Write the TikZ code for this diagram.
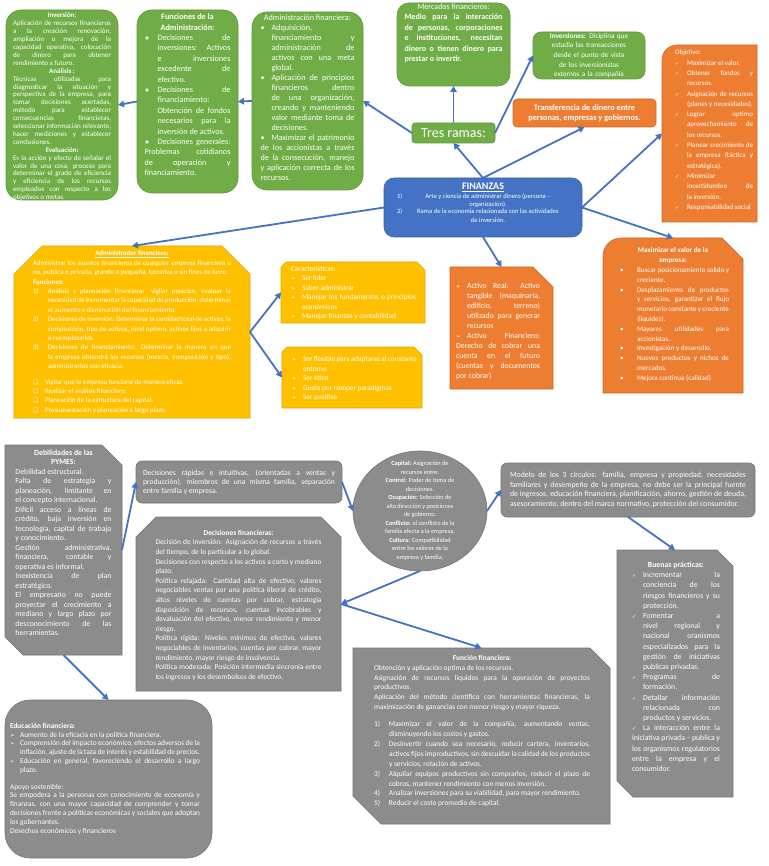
\documentclass[tikz,border=0pt]{standalone}
\usepackage{fontspec}
\setmainfont{Carlito}
\newfontfamily\symfont{DejaVu Sans}
\usetikzlibrary{positioning,calc,arrows.meta,shapes.geometric}
\definecolor{leafgreen}{HTML}{70AD47}
\definecolor{leafedge}{HTML}{5E9A3A}
\definecolor{tangerine}{HTML}{ED7D31}
\definecolor{tangedge}{HTML}{D0692A}
\definecolor{royal}{HTML}{4472C4}
\definecolor{royaledge}{HTML}{3A62AA}
\definecolor{gold}{HTML}{FFC000}
\definecolor{goldedge}{HTML}{E0A800}
\definecolor{slate}{HTML}{8C8C8C}
\definecolor{slateedge}{HTML}{767676}
\definecolor{linkblue}{HTML}{4472C4}
\newcommand{\hitem}[3]{\par\noindent\hangindent=#1\hangafter=1\makebox[#1][l]{#2}#3}
\newcommand{\ttl}[1]{{\centering\textbf{#1}\par}}
\newcommand{\fitem}[2]{\par\noindent\makebox[20pt][l]{#1}\parbox[t]{142pt}{\centering #2}}
\newcommand{\dia}{{\symfont\fontsize{5.5}{6}\selectfont\char"2756}}
\newcommand{\chk}{{\symfont\fontsize{5}{6}\selectfont\char"2713}}
\newcommand{\arr}{{\symfont\fontsize{5.5}{6}\selectfont\char"27A2}}
\newcommand{\sqb}{{\symfont\fontsize{6}{6}\selectfont\char"2751}}
\tolerance=9999 \emergencystretch=3em \hbadness=10000 \hfuzz=3pt
\hyphenpenalty=10000 \exhyphenpenalty=10000 \parindent=0pt

\begin{document}
\begin{tikzpicture}[
        x=1pt,
        y=-1pt,
        frame/.style={inner sep=0pt, outer sep=0pt},
        greenbox/.style={frame, fill=leafgreen, draw=leafedge, line width=0.6pt, text=white},
        orangebox/.style={frame, fill=tangerine, draw=tangedge, line width=0.6pt, text=white},
        bluebox/.style={frame, fill=royal, draw=royaledge, line width=0.6pt, text=white},
        graybox/.style={frame, fill=slate, draw=slateedge, line width=0.6pt, text=white},
        orangefill/.style={fill=tangerine, draw=tangedge, line width=0.6pt},
        goldfill/.style={fill=gold, draw=goldedge, line width=0.6pt},
        grayfill/.style={fill=slate, draw=slateedge, line width=0.6pt},
        txt/.style={text=white, align=justify, inner sep=0pt, outer sep=0pt},
        link/.style={draw=linkblue, line width=1.8pt, -{Triangle[length=6pt,width=6.5pt]}}
    ]
        \fill[white] (0,0) rectangle (768,866);
        \useasboundingbox (0,0) rectangle (768,866);

        % Top half: green branches and FINANZAS
        \node[greenbox, rounded corners=15pt, minimum width=112pt, minimum height=190pt]
            (inversion) at (62,105) {};
        \node[greenbox, rounded corners=15pt, minimum width=101pt, minimum height=183pt]
            (funciones) at (187.5,101.5) {};
        \node[greenbox, rounded corners=15pt, minimum width=111pt, minimum height=178pt]
            (adminfin) at (307.5,101) {};
        \node[greenbox, rounded corners=12pt, minimum width=113pt, minimum height=83pt]
            (mercados) at (453.5,44.5) {};
        \node[greenbox, rounded corners=8pt, minimum width=112pt, minimum height=47pt]
            (inversiones) at (589,55.5) {};
        \node[greenbox, rounded corners=3pt, minimum width=83pt, minimum height=20pt,
            font=\fontsize{14}{16}\selectfont]
            (tresramas) at (453.5,133) {Tres ramas:};
        \node[orangebox, rounded corners=4pt, minimum width=143pt, minimum height=28pt,
            align=center, font=\bfseries\fontsize{8.3}{10}\selectfont]
            (transfer) at (584.5,113) {Transferencia de dinero entre\\personas, empresas y gobiernos.};
        \node[bluebox, rounded corners=10pt, minimum width=198pt, minimum height=59pt]
            (finanzas) at (483,207.5) {};

        % Objetivo: one round corner
        \node[frame, minimum width=95pt, minimum height=177pt] (objetivo) at (709.5,133.5) {};
        \path[orangefill] (objetivo.south west) [rounded corners=15pt] -- (objetivo.north west)
            [sharp corners] -- (objetivo.north east) -- (objetivo.south east) -- cycle;

        % Middle: yellow and orange snipped boxes
        \node[frame, minimum width=236pt, minimum height=172pt] (administrador) at (132,332) {};
        \path[goldfill] (administrador.south west) -- ($(administrador.north west)+(0,28)$)
            -- ($(administrador.north west)+(28,0)$) -- ($(administrador.north east)+(-28,0)$)
            -- ($(administrador.north east)+(0,28)$) -- (administrador.south east) -- cycle;

        \node[frame, minimum width=144pt, minimum height=61pt] (caract) at (353,292.5) {};
        \path[goldfill] (caract.south west) -- ($(caract.north west)+(0,5)$)
            -- ($(caract.north west)+(5,0)$) -- ($(caract.north east)+(-8,0)$)
            -- ($(caract.north east)+(0,8)$) -- (caract.south east) -- cycle;

        \node[frame, minimum width=140pt, minimum height=61pt] (perfil) at (352,377.5) {};
        \path[goldfill] (perfil.south west) -- ($(perfil.north west)+(0,5)$)
            -- ($(perfil.north west)+(5,0)$) -- ($(perfil.north east)+(-8,0)$)
            -- ($(perfil.north east)+(0,8)$) -- (perfil.south east) -- cycle;

        \node[frame, minimum width=103pt, minimum height=122pt] (activos) at (501.5,328) {};
        \path[orangefill] (activos.south west) -- (activos.north west)
            -- ($(activos.north east)+(-20,0)$) -- ($(activos.north east)+(0,20)$)
            -- (activos.south east) -- cycle;

        \node[frame, minimum width=140pt, minimum height=155pt] (maxvalor) at (673,315.5) {};
        \path[orangefill] (maxvalor.south west) [rounded corners=18pt] -- (maxvalor.north west)
            [sharp corners] -- ($(maxvalor.north east)+(-21,0)$) -- ($(maxvalor.north east)+(0,21)$)
            -- (maxvalor.south east) -- cycle;

        % Bottom half: gray boxes
        \node[frame, minimum width=117pt, minimum height=210pt] (debilidades) at (63.5,550) {};
        \path[grayfill] (debilidades.north west) -- ($(debilidades.north east)+(-20,0)$)
            -- ($(debilidades.north east)+(0,20)$) -- (debilidades.south east)
            -- ($(debilidades.south west)+(18,0)$) -- ($(debilidades.south west)+(0,-18)$) -- cycle;

        \node[graybox, rounded corners=6pt, minimum width=206pt, minimum height=42pt]
            (rapidas) at (239,482) {};

        \node[frame, minimum width=205pt, minimum height=174pt] (decfin) at (238.5,604) {};
        \path[grayfill] (decfin.south west) -- ($(decfin.north west)+(0,20)$)
            -- ($(decfin.north west)+(20,0)$) -- ($(decfin.north east)+(-20,0)$)
            -- ($(decfin.north east)+(0,20)$) -- (decfin.south east) -- cycle;

        \node[graybox, ellipse, minimum width=134pt, minimum height=120pt]
            (circulo) at (420,511) {};
        \node[graybox, rounded corners=6pt, minimum width=254pt, minimum height=54pt]
            (modelo) at (628,490) {};

        \node[frame, minimum width=116pt, minimum height=247pt] (buenas) at (675,673.5) {};
        \path[grayfill] (buenas.north west) -- ($(buenas.north east)+(-16,0)$)
            -- ($(buenas.north east)+(0,16)$) -- (buenas.south east)
            -- ($(buenas.south west)+(16,0)$) -- ($(buenas.south west)+(0,-16)$) -- cycle;

        \node[frame, minimum width=257pt, minimum height=176pt] (funcion) at (481.5,736) {};
        \path[grayfill] (funcion.north west) -- ($(funcion.north east)+(-20,0)$)
            -- ($(funcion.north east)+(0,20)$) -- (funcion.south east)
            -- ($(funcion.south west)+(28,0)$) -- ($(funcion.south west)+(0,-28)$) -- cycle;

        \node[graybox, rounded corners=25pt, minimum width=207pt, minimum height=158pt]
            (educacion) at (108.5,779) {};

        % Texts
        \node[txt, text width=98pt, font=\fontsize{7}{7.9}\selectfont, below=3pt of inversion.north]
            (inversiontxt) {%
            \ttl{Inversión:}
            Aplicación de recursos financieros a la creación renovación, ampliación o mejora de la capacidad operativa, colocación de dinero para obtener rendimiento a futuro.\par
            \ttl{Análisis :}
            Técnicas utilizadas para diagnosticar la situación y perspectiva de la empresa, para tomar decisiones acertadas, método para establecer consecuencias financieras, seleccionar información relevante, hacer mediciones y establecer conclusiones.\par
            \ttl{Evaluación:}
            Es la acción y efecto de señalar el valor de una cosa, proceso para determinar el grado de eficiencia y eficiencia de los recursos empleados con respecto a los objetivos o metas.};

        \node[txt, text width=86pt, font=\fontsize{8.2}{10.4}\selectfont, below=4pt of funciones.north]
            (funcionestxt) {%
            \ttl{Funciones de la}\ttl{Administración:}
            \hitem{13pt}{\dia}{Decisiones de inversiones: Activos e inversiones excedente de efectivo.}
            \hitem{13pt}{\dia}{Decisiones de financiamiento: Obtención de fondos necesarios para la inversión de activos.}
            \hitem{13pt}{\dia}{Decisiones generales: Problemas cotidianos de operación y financiamiento.}};

        \node[txt, text width=94pt, font=\fontsize{8.2}{10}\selectfont, below=3pt of adminfin.north]
            (adminfintxt) {%
            {\centering Administración financiera:\par}
            \hitem{11pt}{\textbullet}{Adquisición, financiamiento y administración de activos con una meta global.}
            \hitem{11pt}{\textbullet}{Aplicación de principios financieros dentro de una organización, creando y manteniendo valor mediante toma de decisiones.}
            \hitem{11pt}{\textbullet}{Maximizar el patrimonio de los accionistas a través de la consecución, manejo y aplicación correcta de los recursos.}};

        \node[txt, text width=98pt, font=\fontsize{8}{10.4}\selectfont, below=1pt of mercados.north]
            (mercadostxt) {%
            {\centering Mercados financieros:\par}
            \textbf{Medio para la interacción de personas, corporaciones e instituciones, necesitan dinero o tienen dinero para prestar o invertir.}};

        \node[txt, text width=102pt, align=center, font=\fontsize{7.2}{9.6}\selectfont]
            (inversionestxt) at (inversiones.center) {%
            \textbf{Inversiones:} Diciplina que estudia las transacciones desde el punto de vista de los inversionistas externos a la compañía};

        \node[txt, anchor=north west, text width=78pt, font=\fontsize{7}{10.3}\selectfont]
            (objetivotxt) at (675,50) {%
            Objetivo:
            \hitem{12pt}{\chk}{Maximizar el valor.}
            \hitem{12pt}{\chk}{Obtener fondos y recursos.}
            \hitem{12pt}{\chk}{Asignación de recursos (planes y necesidades).}
            \hitem{12pt}{\chk}{Lograr optimo aprovechamiento de los recursos.}
            \hitem{12pt}{\chk}{Planear crecimiento de la empresa (táctica y estratégica).}
            \hitem{12pt}{\chk}{Minimizar incertidumbre de la inversión.}
            \hitem{12pt}{\chk}{Responsabilidad social}};

        \node[txt, text width=172pt, font=\fontsize{6.6}{8.5}\selectfont, below=5pt of finanzas.north]
            (finanzastxt) {%
            {\centering\fontsize{10}{12}\selectfont\textbf{\underline{FINANZAS}}\par}
            \fitem{1)}{Arte y ciencia de administrar dinero (persona -- organización).}
            \fitem{2)}{Rama de la economía relacionada con las actividades de inversión.}};

        \node[txt, text width=198pt, font=\fontsize{6.9}{9.4}\selectfont, below=5pt of administrador.north]
            (administradortxt) {%
            {\centering\textbf{\underline{Administrador financiero:}}\par}
            Administrar los asuntos financieros de cualquier empresa financiera o no, publica o privada, grande o pequeña, lucrativa o sin fines de lucro.\par
            \textbf{Funciones:}
            \hitem{15pt}{1)}{Análisis y planeación financiera: vigilar posición, evaluar la necesidad de incrementar la capacidad de producción, determinar el aumento o disminución del financiamiento.}
            \hitem{15pt}{2)}{Decisiones de inversión: Determinar la cantidad total de activos, la composición, tipo de activos, nivel optimo, activos fijos a adquirir o reemplazarlos.}
            \hitem{15pt}{3)}{Decisiones de financiamiento: Determinar la manera en que la empresa obtendrá los recursos (mezcla, composición y tipo), administrarlos con eficacia.}
            \par\vspace{6pt}
            \hitem{12pt}{\sqb}{Vigilar que la empresa funcione de manera eficaz.}
            \hitem{12pt}{\sqb}{Realizar el análisis financiero.}
            \hitem{12pt}{\sqb}{Planeación de la estructura del capital.}
            \hitem{12pt}{\sqb}{Presupuestación y planeación a largo plazo.}};

        \node[txt, anchor=north west, text width=125pt, font=\fontsize{7.3}{9.5}\selectfont]
            (caracttxt) at (291,266) {%
            Características:
            \hitem{11pt}{\arr}{Ser líder}
            \hitem{11pt}{\arr}{Saber administrar}
            \hitem{11pt}{\arr}{Manejar los fundamentos o principios económicos}
            \hitem{11pt}{\arr}{Manejar finanzas y contabilidad}};

        \node[txt, anchor=north west, text width=125pt, font=\fontsize{7.3}{9.5}\selectfont]
            (perfiltxt) at (292,352) {%
            \hitem{11pt}{\arr}{Ser flexible para adaptarse al constante entorno}
            \hitem{11pt}{\arr}{Ser ético}
            \hitem{11pt}{\arr}{Gusto por romper paradigmas}
            \hitem{11pt}{\arr}{Ser positivo}};

        \node[txt, anchor=north west, text width=84pt, font=\fontsize{7.8}{9.9}\selectfont]
            (activostxt) at (456,279) {%
            \hitem{11pt}{\arr}{Activo Real: Activo tangible (maquinaria, edificio, terreno) utilizado para generar recursos}
            \hitem{11pt}{\arr}{Activo Financiero: Derecho de cobrar una cuenta en el futuro (cuentas y documentos por cobrar)}};

        \node[txt, text width=112pt, font=\fontsize{7.1}{9.8}\selectfont, below=10pt of maxvalor.north]
            (maxvalortxt) {%
            \ttl{Maximizar el valor de la}\ttl{empresa:}
            \hitem{20pt}{\hspace{3pt}\textbullet}{Buscar posicionamiento solido y creciente.}
            \hitem{20pt}{\hspace{3pt}\textbullet}{Desplazamiento de productos y servicios, garantizar el flujo monetario constante y creciente (liquidez).}
            \hitem{20pt}{\hspace{3pt}\textbullet}{Mayores utilidades para accionistas.}
            \hitem{20pt}{\hspace{3pt}\textbullet}{Investigación y desarrollo.}
            \hitem{20pt}{\hspace{3pt}\textbullet}{Nuevos productos y nichos de mercados.}
            \hitem{20pt}{\hspace{3pt}\textbullet}{Mejora continua (calidad)}};

        \node[txt, text width=96pt, font=\fontsize{7.8}{9.5}\selectfont, below=5pt of debilidades.north]
            (debilidadestxt) {%
            \ttl{Debilidades de las}\ttl{PYMES:}
            Debilidad estructural.\par
            Falta de estrategia y planeación, limitante en el concepto internacional.\par
            Difícil acceso a líneas de crédito, baja inversión en tecnología, capital de trabajo y conocimiento.\par
            Gestión administrativa, financiera, contable y operativa es informal.\par
            Inexistencia de plan estratégico.\par
            El empresario no puede proyectar el crecimiento a mediano y largo plazo por desconocimiento de las herramientas.};

        \node[txt, text width=192pt, font=\fontsize{7.6}{9}\selectfont]
            (rapidastxt) at (rapidas.center) {%
            Decisiones rápidas e intuitivas, (orientadas a ventas y producción), miembros de una misma familia, separación entre familia y empresa.};

        \node[txt, text width=166pt, font=\fontsize{7.4}{9.6}\selectfont, below=13pt of decfin.north]
            (decfintxt) {%
            \ttl{Decisiones financieras:}
            Decisión de inversión: Asignación de recursos a través del tiempo, de lo particular a lo global.\par
            Decisiones con respecto a los activos a corto y mediano plazo.\par
            Política relajada: Cantidad alta de efectivo, valores negociables ventas por una política liberal de crédito, altos niveles de cuentas por cobrar, estrategia disposición de recursos, cuentas incobrables y devaluación del efectivo, menor rendimiento y menor riesgo.\par
            Política rígida: Niveles mínimos de efectivo, valores negociables de inventarios, cuentas por cobrar, mayor rendimiento, mayor riesgo de insolvencia.\par
            Política moderada: Posición intermedia sincronía entre los ingresos y los desembolsos de efectivo.};

        \node[txt, align=center, font=\fontsize{6.3}{8.5}\selectfont]
            (circulotxt) at (circulo.center) {%
            \textbf{Capital:} Asignación de\\ recursos entre.\\
            \textbf{Control:} Poder de toma de\\ decisiones.\\
            \textbf{Ocupación:} Selección de\\ alta dirección y posiciones\\ de gobierno.\\
            \textbf{Conflicto:} el conflicto de la\\ familia afecta a la empresa.\\
            \textbf{Cultura:} Compatibilidad\\ entre los valores de la\\ empresa y familia.};

        \node[txt, text width=236pt, font=\fontsize{7.8}{9.6}\selectfont]
            (modelotxt) at (modelo.center) {%
            Modelo de los 3 círculos: familia, empresa y propiedad, necesidades familiares y desempeño de la empresa, no debe ser la principal fuente de ingresos, educación financiera, planificación, ahorro, gestión de deuda, asesoramiento, dentro del marco normativo, protección del consumidor.};

        \node[txt, anchor=north west, text width=88pt, font=\fontsize{7.8}{10.2}\selectfont]
            (buenastxt) at (632,562) {%
            \ttl{Buenas prácticas:}
            \hitem{11pt}{\chk}{Incrementar la conciencia de los riesgos financieros y su protección.}
            \hitem{11pt}{\chk}{Fomentar a nivel regional y nacional oranismos especializados para la gestión de iniciativas publicas privadas.}
            \hitem{11pt}{\chk}{Programas de formación.}
            \hitem{11pt}{\chk}{Detallar información relacionada con productos y servicios.}
            \hitem{11pt}{\chk}{La interacción entre la iniciativa privada -- publica y los organismos regulatorios entre la empresa y el consumidor.}};

        \node[txt, anchor=north west, text width=216pt, font=\fontsize{7.4}{9.9}\selectfont]
            (funciontxt) at (374,655) {%
            \ttl{Función financiera:}
            Obtención y aplicación optima de los recursos.\par
            Asignación de recursos liquidos para la operación de proyectos productivos.\par
            Aplicación del método científico con herramientas financieras, la maximización de ganancias con menor riesgo y mayor riqueza.\par\vspace{7pt}
            \hitem{15pt}{1)}{Maximizar el valor de la compañía, aumentando ventas, disminuyendo los costos y gastos.}
            \hitem{15pt}{2)}{Desinvertir cuando sea necesario, reducir cartera, inventarios, activos fijos improductivos, sin descuidar la calidad de los productos y servicios, rotación de activos.}
            \hitem{15pt}{3)}{Alquilar equipos productivos sin comprarlos, reducir el plazo de cobros, mantener rendimiento con menos inversión.}
            \hitem{15pt}{4)}{Analizar inversiones para su viabilidad, para mayor rendimiento.}
            \hitem{15pt}{5)}{Reducir el costo promedio de capital.}};

        \node[txt, anchor=north west, text width=190pt, font=\fontsize{7.4}{8.8}\selectfont]
            (educaciontxt) at (10,723) {%
            \textbf{Educación financiera:}
            \hitem{10pt}{\arr}{Aumento de la eficacia en la política financiera.}
            \hitem{10pt}{\arr}{Comprensión del impacto económico, efectos adversos de la inflación, ajuste de la taza de interés y estabilidad de precios.}
            \hitem{10pt}{\arr}{Educación en general, favoreciendo el desarrollo a largo plazo.}
            \par\vspace{8pt}
            Apoyo sostenible:\par
            Se empodera a la personas con conocimiento de economía y finanzas, con una mayor capacidad de comprender y tomar decisiones frente a políticas económicas y sociales que adoptan los gobernantes.\par
            Desechos económicos y financieros};

        % Connectors
        \foreach \from/\to in {funciones.west/inversion.east, adminfin.west/funciones.east,
                tresramas.west/adminfin.east, tresramas.north/mercados.south,
                tresramas.east/inversiones.west, finanzas.north/tresramas.south,
                finanzas.north/transfer.south, finanzas.east/objetivo.west,
                finanzas.east/maxvalor.north, finanzas.south/activos.north,
                finanzas.west/administrador.north, administrador.east/caract.west,
                administrador.east/perfil.west, debilidades.east/rapidas.west,
                rapidas.east/circulo.west, circulo.east/modelo.west,
                modelo.south/buenas.north, circulo.south/decfin.east,
                decfin.east/funcion.north, debilidades.south/educacion.north}
            \draw[link] (\from) -- (\to);

    \end{tikzpicture}
\end{document}
